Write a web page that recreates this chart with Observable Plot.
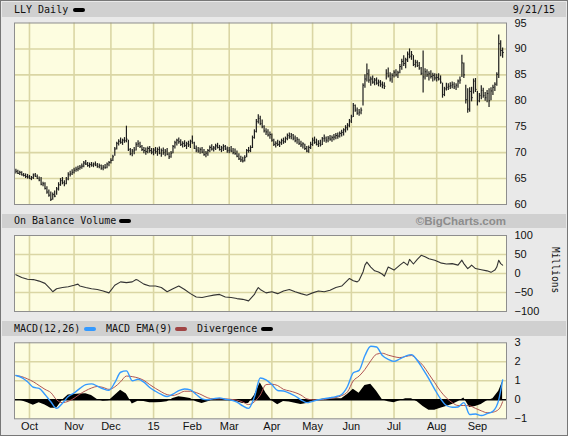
<!DOCTYPE html>
<html><head><meta charset="utf-8">
<script src="https://cdn.jsdelivr.net/npm/d3@7"></script>
<script src="https://cdn.jsdelivr.net/npm/@observablehq/plot@0.6"></script>
<style>
html,body{margin:0;padding:0;background:#fff}
#chart{position:relative;width:568px;height:436px;background:#e9e9e9;overflow:hidden;font-family:"DejaVu Sans Mono",monospace}
.bar{position:absolute;left:2px;width:564px;background:#d0d0d0}
.hdr{position:absolute;font-size:10px;color:#111;white-space:nowrap}
.sw{position:absolute;width:12px;height:4px;border-radius:2px;background:#000}
.pn{position:absolute;left:0}
.border{position:absolute;left:0;top:0;width:568px;height:436px;box-sizing:border-box;border:1px solid #777;pointer-events:none}
svg{overflow:visible}
</style></head><body>
<div id="chart">
  <div class="bar" style="top:2px;height:15px"></div>
  <div class="hdr" style="left:14px;top:2px;line-height:15px">LLY Daily</div>
  <div class="sw" style="left:73px;top:8px"></div>
  <div class="hdr" style="right:13px;top:2px;line-height:15px">9/21/15</div>
  <div class="pn" id="p1" style="top:17px"></div>

  <div class="bar" style="top:214px;height:14px"></div>
  <div class="hdr" style="left:14px;top:214px;line-height:14px">On Balance Volume</div>
  <div class="sw" style="left:119px;top:219px"></div>
  <div class="hdr" style="right:62px;top:214px;line-height:14px;font-family:'Liberation Sans',Arial,sans-serif;font-weight:bold;font-size:11.5px;color:#8c8c8c">©BigCharts.com</div>
  <div class="pn" id="p2" style="top:229px"></div>
  <div class="hdr" style="left:550px;top:247px;writing-mode:vertical-rl;font-size:9.6px">Millions</div>

  <div class="bar" style="top:321px;height:15px"></div>
  <div class="hdr" style="left:14px;top:321px;line-height:15px">MACD(12,26)</div>
  <div class="sw" style="left:84px;top:327px;background:#3399ff"></div>
  <div class="hdr" style="left:106px;top:321px;line-height:15px">MACD EMA(9)</div>
  <div class="sw" style="left:175px;top:327px;background:#a04444"></div>
  <div class="hdr" style="left:197px;top:321px;line-height:15px">Divergence</div>
  <div class="sw" style="left:261px;top:327px"></div>
  <div class="pn" id="p3" style="top:336px"></div>
  <div class="border"></div>
</div>
<script>
// ---- Data (trading-day index 0 = 9/22/14 ... 251 = 9/21/15) ----
const monthStartDay = [7, 30, 49, 71, 91, 110, 132, 153, 173, 195, 217, 238];
const monthLabels = ["Oct", "Nov", "Dec", "15", "Feb", "Mar", "Apr", "May", "Jun", "Jul", "Aug", "Sep"];

const priceTicks = [60, 65, 70, 75, 80, 85, 90, 95];
const priceGrid = [65, 70, 75, 80, 85, 90];
const obvTicks = [-100, -50, 0, 50, 100];
const obvGrid = [-50, 0, 50];
const macdTicks = [-1, 0, 1, 2, 3];
const macdGrid = [1, 2];

const priceLow = [
65.9,65.8,65.6,65.5,65.3,65.0,64.9,
64.8,64.6,64.8,65.2,64.8,64.4,63.6,63.4,62.8,62.0,61.4,60.6,60.8,61.3,61.8,62.6,63.5,63.8,63.4,63.8,64.6,65.3,65.6,
65.9,66.2,66.3,66.6,66.8,67.1,67.5,67.2,67.0,67.2,67.1,67.3,67.0,66.9,66.6,66.5,66.8,66.9,67.3,
67.8,68.3,69.3,70.5,71.3,71.6,71.4,71.8,71.9,70.2,69.4,69.2,69.6,70.3,71.0,70.8,70.2,69.8,69.5,69.8,69.9,69.6,
69.4,69.7,69.3,69.6,69.1,69.5,69.2,69.4,68.7,68.9,69.8,70.7,71.3,71.6,71.2,70.9,71.0,70.6,71.0,70.8,
71.6,70.6,70.0,69.9,69.7,69.8,69.3,69.0,69.3,70.0,70.3,70.1,70.4,70.7,70.3,70.0,70.2,70.4,69.9,
69.8,70.0,69.6,69.5,69.0,68.5,68.1,68.0,68.2,69.0,69.9,70.0,70.8,72.6,73.8,75.5,75.2,74.6,73.8,73.3,73.0,72.6,
72.0,71.2,70.9,71.2,71.0,71.4,71.6,71.8,72.3,72.6,72.5,72.3,71.9,71.6,71.4,71.0,70.7,70.4,70.0,69.9,70.6,
71.2,71.6,71.3,71.0,71.1,71.4,72.0,71.8,71.9,72.2,72.0,72.3,72.5,72.6,72.8,73.0,73.2,73.8,74.2,74.8,
75.6,76.8,77.8,77.2,77.0,77.3,79.0,82.4,83.6,83.4,82.8,83.2,82.9,83.0,82.7,82.6,82.3,82.2,84.0,84.4,83.6,83.4,
84.4,84.6,84.3,85.2,85.9,86.6,86.2,87.4,88.1,87.8,86.6,86.3,86.4,85.9,84.9,81.5,84.0,84.5,83.8,84.2,83.6,83.8,
83.6,83.8,83.2,80.5,80.8,81.9,82.0,82.2,82.3,82.2,82.0,82.4,83.2,84.5,84.3,79.4,77.6,77.8,79.8,81.3,81.6,
79.0,79.6,80.2,80.5,79.9,79.6,78.7,80.0,81.0,81.8,82.8,84.3,88.5,88.2];

const priceHigh = [
66.8,66.6,66.4,66.3,66.0,65.9,65.8,
65.6,65.4,65.9,66.0,65.7,65.3,65.2,64.3,64.2,63.4,62.8,62.4,62.2,62.6,63.3,64.2,65.0,65.2,64.6,65.2,66.1,66.4,66.7,
67.0,67.2,67.4,67.5,67.8,68.3,68.5,68.1,68.0,68.1,68.0,68.2,67.9,67.8,67.6,67.5,67.7,68.0,68.3,
68.8,69.5,71.0,72.0,72.5,72.8,72.6,72.9,75.1,72.4,70.8,70.6,71.0,71.9,72.3,72.0,71.4,71.0,70.9,71.1,71.2,70.8,
70.8,71.0,70.9,71.1,70.7,70.9,70.6,70.8,70.0,70.2,71.4,72.2,72.6,72.8,72.5,72.1,72.3,72.0,72.2,72.4,
73.2,72.0,71.3,71.0,70.9,71.0,70.6,70.2,70.6,71.3,71.5,71.2,71.6,71.8,71.4,71.2,71.5,71.4,71.1,
71.0,71.2,70.8,70.7,70.3,69.8,69.3,69.1,69.4,70.6,71.0,71.3,73.2,74.4,76.4,77.3,77.0,76.3,75.2,74.6,74.4,74.0,
73.6,72.6,72.1,72.4,72.2,72.6,72.8,73.0,73.6,73.8,73.7,73.5,73.2,72.9,72.6,72.2,71.9,71.6,71.2,71.3,72.0,
72.8,73.0,72.6,72.3,72.4,72.9,73.4,73.0,73.1,73.3,73.2,73.5,73.7,73.8,74.0,74.3,74.6,75.2,75.6,76.4,
77.2,79.5,79.2,78.6,78.3,78.6,83.3,85.0,87.1,86.0,84.6,84.8,84.3,84.4,84.0,83.9,83.6,83.5,86.0,86.3,85.4,85.2,
85.8,86.0,85.7,87.0,88.0,88.7,88.2,89.4,90.0,89.5,88.7,87.8,87.7,87.4,86.4,89.6,86.2,86.0,85.6,85.8,85.3,85.2,
85.1,85.2,84.8,83.4,82.6,83.4,83.3,83.5,83.6,83.5,83.3,84.0,84.6,88.8,87.3,83.0,82.3,82.5,82.6,84.2,84.3,
81.8,81.4,82.9,82.4,81.6,82.0,82.3,82.5,83.0,83.5,85.4,92.7,91.6,90.2];

const priceClose = [
66.4,66.0,66.2,65.7,65.6,65.4,65.3,
65.0,65.2,65.7,65.4,65.0,64.7,63.9,64.0,63.1,62.4,61.8,61.0,61.9,61.6,63.0,63.8,64.6,64.2,64.0,64.9,65.8,65.9,66.2,
66.6,66.8,66.9,67.2,67.4,68.0,67.8,67.5,67.7,67.6,67.8,67.6,67.3,67.5,67.0,67.2,67.1,67.8,68.1,
68.5,69.2,70.7,71.8,72.2,72.0,72.4,72.3,72.6,70.6,69.8,70.3,70.5,71.6,71.7,71.2,70.6,70.4,70.2,70.8,70.4,70.1,
70.5,70.2,70.6,69.9,70.4,70.0,70.3,69.7,69.2,69.9,71.2,71.9,72.4,72.1,71.6,71.8,71.4,71.7,71.5,72.2,
71.9,70.8,70.5,70.3,70.6,70.1,69.6,69.9,70.4,71.0,70.7,70.9,71.3,71.0,70.6,70.9,71.2,70.7,70.4,
70.5,70.3,70.0,69.8,69.3,68.8,68.6,68.4,69.1,70.4,70.4,71.0,72.9,74.1,76.0,76.6,75.6,75.0,74.2,74.0,73.4,73.5,
72.4,71.6,71.8,71.6,71.9,72.3,72.1,72.7,73.3,73.1,73.4,72.8,72.3,72.6,71.8,71.5,71.7,70.8,70.3,71.0,71.6,
72.4,72.0,71.6,71.8,71.5,72.7,72.8,72.4,72.8,72.6,72.9,73.0,73.3,73.2,73.7,73.9,74.4,74.8,75.3,76.1,
76.9,79.1,78.2,77.6,77.8,78.2,83.0,84.2,85.2,84.0,84.2,83.6,84.0,83.4,83.6,83.2,83.0,82.8,85.3,84.8,84.2,84.9,
85.5,85.0,85.4,86.6,87.6,87.2,87.9,89.0,88.6,88.9,87.0,87.4,86.8,86.3,85.3,84.6,85.6,85.0,85.2,84.7,84.9,84.4,
84.5,84.2,83.6,81.2,82.3,82.6,82.8,82.9,83.1,82.7,83.0,83.8,84.0,87.3,85.0,80.2,78.4,81.8,80.6,83.8,82.2,
80.0,81.0,82.0,81.0,80.6,81.4,80.0,81.9,82.6,83.2,85.1,91.0,89.7,89.3];

// On Balance Volume (millions), read at these trading days
const obvDay = [0,3,6,9,12,15,18,19,21,24,27,30,32,33,36,39,42,45,48,51,54,57,60,62,63,66,69,72,75,78,81,84,87,90,93,96,99,102,105,108,111,114,117,120,123,124,125,126,129,132,135,138,141,144,147,150,153,156,159,162,165,168,171,172,174,176,177,179,180,181,183,185,187,189,190,192,195,198,200,202,203,205,207,209,211,213,216,219,222,225,228,230,231,233,234,235,237,240,243,245,247,248,249,250,251];
const obvValue = [-3,-10.5,-15,-16,-20,-26,-42,-48,-40,-37,-35,-31,-28,-33,-37,-40,-42,-46,-51,-31,-22,-24,-22,-16,-18,-28,-33,-33,-37,-48,-40,-33,-42,-53,-62,-63,-60,-57,-55,-62,-63,-66,-68,-72,-55,-45,-37,-42,-51,-48,-53,-46,-42,-48,-53,-57,-51,-46,-48,-44,-37,-33,-18,-13,-19,-22,-18,4,22,30,17,7,4,-2,-7,17,9,22,30,22,37,25,37,48,44,39,35,28,25,26,22,35,26,13,17,22,13,10,7,3,9,17,35,26,22];

// MACD panel, read at these trading days
const macdDay = [0,3,6,9,12,15,18,21,24,27,30,33,36,39,42,45,48,51,54,57,60,63,66,69,72,75,78,81,84,87,90,93,96,99,102,105,108,111,114,117,120,123,126,129,132,135,138,141,144,147,150,153,156,159,162,165,168,171,174,177,180,183,186,189,192,195,198,201,204,207,210,213,216,219,222,225,228,231,234,237,240,243,246,249,250,251];
const macdLine = [1.28,1.17,0.95,0.66,0.6,0.28,-0.1,-0.45,-0.18,0.17,
0.36,0.6,0.8,0.84,0.72,0.58,0.5,0.9,1.45,1.52,
1.0,1.08,0.93,0.65,0.45,0.28,0.17,0.3,0.48,0.57,
0.52,0.28,0.05,0.0,0.06,0.1,0.03,-0.02,-0.12,-0.32,
-0.45,0.15,1.15,1.05,0.8,0.49,0.46,0.35,0.2,0.0,
-0.15,-0.08,0.0,0.06,0.11,0.17,0.28,0.7,1.42,1.55,
2.33,2.82,2.78,2.33,2.13,2.02,2.15,2.3,2.38,2.07,
1.6,1.1,0.55,0.05,-0.3,-0.39,-0.38,-0.15,-0.77,-0.75,
-0.83,-0.73,-0.6,0.0,0.5,1.05];
const macdSignal = [1.28,1.22,1.1,0.95,0.75,0.55,0.38,0.0,-0.15,-0.08,
0.08,0.3,0.48,0.62,0.7,0.65,0.55,0.68,0.95,1.25,
1.22,1.15,1.02,0.8,0.6,0.42,0.27,0.23,0.32,0.45,
0.45,0.38,0.25,0.1,0.05,0.05,0.05,0.02,-0.02,-0.12,
-0.25,-0.1,0.25,0.8,0.82,0.75,0.55,0.47,0.38,0.25,
0.05,0.0,0.0,0.02,0.07,0.12,0.22,0.42,1.0,1.25,
1.6,2.05,2.4,2.45,2.35,2.27,2.22,2.28,2.33,2.1,
1.8,1.35,0.9,0.45,0.1,-0.15,-0.3,-0.3,-0.32,-0.45,
-0.58,-0.68,-0.65,-0.5,-0.35,-0.1];
const macdDivergence = [0,-0.05,-0.15,-0.29,-0.15,-0.27,-0.45,-0.45,-0.03,0.25,
0.28,0.3,0.32,0.22,0.02,-0.07,-0.05,0.22,0.5,0.3,
-0.22,-0.07,-0.09,-0.15,-0.15,-0.14,-0.1,0.07,0.16,0.12,
0.07,-0.1,-0.2,-0.1,0.01,0.05,-0.02,-0.04,-0.1,-0.2,
-0.2,0.23,0.9,0.35,-0.05,-0.26,-0.09,-0.12,-0.18,-0.25,
-0.2,-0.08,0.0,0.04,0.04,0.05,0.06,0.28,0.55,0.35,
0.75,0.82,0.45,0.0,-0.1,-0.15,-0.05,0.05,0.05,-0.1,
-0.35,-0.55,-0.55,-0.45,-0.35,-0.25,-0.1,0.1,-0.4,-0.35,
-0.25,-0.05,0.05,0.45,0.7,0.95];

// ---- Build ----
const bars = priceLow.map((lo, i) => ({i, lo, hi: priceHigh[i], c: priceClose[i]}));
const obv = obvDay.map((d, k) => ({d, v: obvValue[k]}));
const macd = macdDay.map((d, k) => ({d, m: macdLine[k], s: macdSignal[k], g: macdDivergence[k]}));

const W = 568, ML = 14, MR = 62;
const xDomain = [-0.72, 253];
const plotBg = "#fdfde0";
const gridC = "#dad6a4";
const frameC = "#8e8e8e";
const axisFont = {fontFamily: "'Liberation Sans', Arial, sans-serif", fontSize: "11px", color: "#111", background: "transparent", overflow: "visible"};
const gridX = () => Plot.ruleX(monthStartDay, {stroke: gridC, strokeWidth: 1.6});
const yAxis = (ticks) => Plot.axisY(ticks, {anchor: "right", tickSize: 0, tickPadding: 8, label: null, fill: "#111"});

const p1 = Plot.plot({
  width: W, height: 192, marginLeft: ML, marginRight: MR, marginTop: 5.5, marginBottom: 5,
  style: axisFont,
  x: {domain: xDomain, axis: null},
  y: {domain: [60, 95]},
  marks: [
    Plot.frame({fill: plotBg}),
    gridX(),
    Plot.ruleY(priceGrid, {stroke: gridC, strokeWidth: 1.6}),
    Plot.ruleX(bars, {x: "i", y1: "lo", y2: "hi", stroke: "#1e1e1e", strokeWidth: 1.2}),
    Plot.link(bars, {x1: "i", x2: d => d.i + 0.6, y1: "c", y2: "c", stroke: "#1e1e1e", strokeWidth: 1}),
    Plot.frame({stroke: frameC}),
    yAxis(priceTicks)
  ]
});
document.getElementById("p1").appendChild(p1);

const p2 = Plot.plot({
  width: W, height: 88, marginLeft: ML, marginRight: MR, marginTop: 6, marginBottom: 6,
  style: axisFont,
  x: {domain: xDomain, axis: null},
  y: {domain: [-100, 100]},
  marks: [
    Plot.frame({fill: plotBg}),
    gridX(),
    Plot.ruleY(obvGrid, {stroke: gridC, strokeWidth: 1.6}),
    Plot.line(obv, {x: "d", y: "v", stroke: "#333", strokeWidth: 1.1}),
    Plot.frame({stroke: frameC}),
    yAxis(obvTicks)
  ]
});
document.getElementById("p2").appendChild(p2);

const p3 = Plot.plot({
  width: W, height: 100, marginLeft: ML, marginRight: MR, marginTop: 6.3, marginBottom: 17.7,
  style: axisFont,
  x: {domain: xDomain},
  y: {domain: [-1, 3]},
  marks: [
    Plot.frame({fill: plotBg}),
    gridX(),
    Plot.ruleY(macdGrid, {stroke: gridC, strokeWidth: 1.6}),
    Plot.areaY(macd, {x: "d", y: "g", fill: "#000"}),
    Plot.ruleY([0], {stroke: "#000", strokeWidth: 1.5}),
    Plot.line(macd, {x: "d", y: "s", stroke: "#b05555", strokeWidth: 1, curve: "monotone-x"}),
    Plot.line(macd, {x: "d", y: "m", stroke: "#3399ff", strokeWidth: 1.4, curve: "monotone-x"}),
    Plot.frame({stroke: frameC}),
    yAxis(macdTicks),
    Plot.axisX(monthStartDay, {anchor: "bottom", tickSize: 0, tickPadding: 3.5, label: null, fill: "#111",
      tickFormat: d => monthLabels[monthStartDay.indexOf(d)]})
  ]
});
document.getElementById("p3").appendChild(p3);
</script>
</body></html>
